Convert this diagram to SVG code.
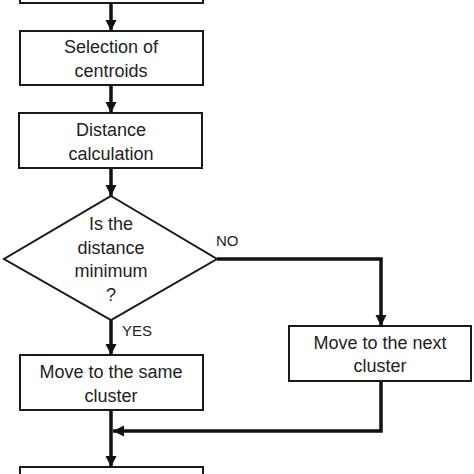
<svg xmlns="http://www.w3.org/2000/svg" width="474" height="474" viewBox="0 0 474 474">
<style>
.box{fill:#fff;stroke:#1a1a1a;stroke-width:2}
.t{font-family:"Liberation Sans",Arial,sans-serif;font-size:18px;fill:#222;text-anchor:middle}
.lbl{font-family:"Liberation Sans",Arial,sans-serif;font-size:15px;fill:#222}
.c{fill:none;stroke:#111;stroke-width:3.5}
</style>
<defs>
<marker id="ah" markerUnits="userSpaceOnUse" markerWidth="12" markerHeight="12" viewBox="0 0 12 12" refX="11" refY="6" orient="auto">
<path d="M0,0.5 L11,6 L0,11.5 z" fill="#111"/>
</marker>
</defs>
<rect width="474" height="474" fill="#fff"/>
<g id="connectors">
<line class="c" x1="111" y1="3" x2="111" y2="31" marker-end="url(#ah)"/>
<line class="c" x1="111" y1="85" x2="111" y2="113" marker-end="url(#ah)"/>
<line class="c" x1="111" y1="168" x2="111" y2="196" marker-end="url(#ah)"/>
<line class="c" x1="111" y1="320" x2="111" y2="355" marker-end="url(#ah)"/>
<line class="c" x1="111" y1="410" x2="111" y2="467" marker-end="url(#ah)"/>
<polyline class="c" points="217,259 381,259 381,326" marker-end="url(#ah)"/>
<polyline class="c" points="381,381 381,431 113,431" marker-end="url(#ah)"/>
<text class="lbl" x="216" y="246">NO</text>
<text class="lbl" x="122" y="336">YES</text>
</g>
<g id="start">
<rect class="box" x="20" y="-20" width="183" height="23"/>
</g>
<g id="selection">
<rect class="box" x="20" y="31" width="183" height="54"/>
<text class="t" x="111" y="53">Selection of</text>
<text class="t" x="111" y="77">centroids</text>
</g>
<g id="distance">
<rect class="box" x="19" y="113" width="183" height="55"/>
<text class="t" x="111" y="136">Distance</text>
<text class="t" x="111" y="160">calculation</text>
</g>
<g id="decision">
<polygon class="box" points="111,196 217,259 111,320 4,259"/>
<text class="t" x="111" y="230">Is the</text>
<text class="t" x="111" y="254">distance</text>
<text class="t" x="111" y="277">minimum</text>
<text class="t" x="111" y="301">?</text>
</g>
<g id="same">
<rect class="box" x="20" y="355" width="183" height="55"/>
<text class="t" x="111" y="378">Move to the same</text>
<text class="t" x="111" y="402">cluster</text>
</g>
<g id="next">
<rect class="box" x="289" y="326" width="182" height="55"/>
<text class="t" x="380" y="349">Move to the next</text>
<text class="t" x="380" y="372">cluster</text>
</g>
<g id="end">
<rect class="box" x="20" y="467" width="183" height="20"/>
</g>
</svg>
